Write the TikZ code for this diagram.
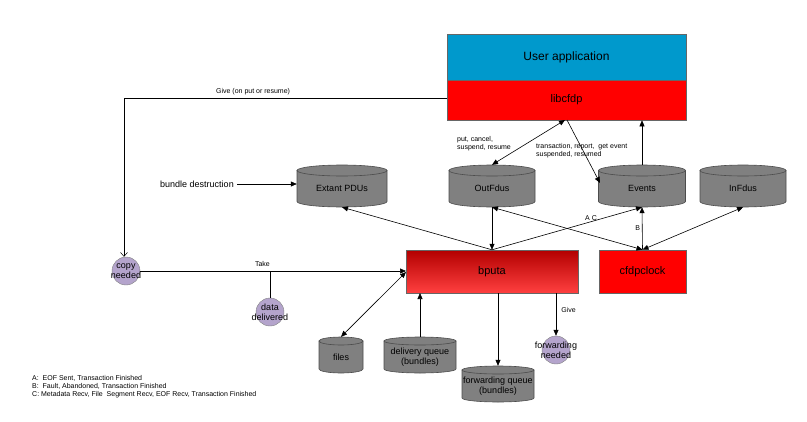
\documentclass[tikz,border=0pt]{standalone}
\usepackage{fontspec}
\setmainfont{Liberation Sans}
\usetikzlibrary{arrows.meta}
\definecolor{ublue}{RGB}{0,153,204}
\definecolor{cgray}{RGB}{128,128,128}
\definecolor{cpurp}{RGB}{180,164,204}
\newcommand{\mycyl}[7]{% name cx cy w h ry text
  \pgfmathsetmacro{\l}{#2-#4/2}\pgfmathsetmacro{\r}{#2+#4/2}
  \pgfmathsetmacro{\t}{#3-#5/2+#6}\pgfmathsetmacro{\b}{#3+#5/2-#6}
  \filldraw[fill=cgray,draw=black!70,line width=0.6pt] (\l,\t) -- (\l,\b) arc[start angle=180,end angle=0,x radius=#4/2,y radius=#6] -- (\r,\t) -- cycle;
  \filldraw[fill=cgray,draw=black!70,line width=0.6pt] (#2,\t) ellipse[x radius=#4/2,y radius=#6];
  \node[minimum width=#4, minimum height=#5, inner sep=0] (#1) at (#2,#3) {};
  \node[font=\fontsize{9}{10}\selectfont,align=center] at (#2,#3+#6/2) {#7};
}
\tikzset{
  ar/.style={-{Triangle[width=5pt,length=6pt]},line width=0.6pt},
  dar/.style={{Triangle[width=5pt,length=6pt]}-{Triangle[width=5pt,length=6pt]},line width=0.6pt},
  box/.style={draw=black!60,line width=0.6pt,minimum width=#1,inner sep=0,font=\fontsize{11}{12}\selectfont},
  circ/.style={circle,fill=cpurp,draw=black!50,minimum size=28pt,inner sep=0},
  ctext/.style={font=\fontsize{9}{10}\selectfont,align=center},
  lab/.style={font=\fontsize{7}{8}\selectfont,align=left,inner sep=1pt},
}
\begin{document}
\begin{tikzpicture}[x=1pt,y=-1pt]
\useasboundingbox (0,0) rectangle (807,421);
\node[box=239pt,minimum height=46pt,fill=ublue,font=\fontsize{12}{13}\selectfont] (ua) at (566.5,57) {User application};
\node[box=239pt,minimum height=40pt,fill=red] (lib) at (566.5,100) {libcfdp};
\mycyl{ext}{342}{186}{90}{42}{5.5}{Extant PDUs}
\mycyl{out}{492}{186}{86}{42}{5.5}{OutFdus}
\mycyl{ev}{642}{186}{87}{42}{5.5}{Events}
\mycyl{inf}{743}{186}{86}{42}{5.5}{InFdus}
\mycyl{files}{341}{355}{44}{36}{4}{files}
\mycyl{dq}{420}{355}{72}{36}{4}{delivery queue\\(bundles)}
\mycyl{fq}{498}{384}{72}{36}{4}{forwarding queue\\(bundles)}
\shade[top color=red!70!black,bottom color=red!75,draw=black!60] (406,250) rectangle (578,293);
\node[minimum width=172pt,minimum height=43pt,inner sep=0,font=\fontsize{11}{12}\selectfont] (bp) at (492,271.5) {bputa};
\node[box=87pt,minimum height=43pt,fill=red] (clk) at (642.5,271.5) {cfdpclock};
\node[circ] (cp) at (126,271) {};
\node[ctext] at (126,271) {copy\\needed};
\node[circ] (dd) at (270,312) {};
\node[ctext] at (270,312) {data\\delivered};
\node[circ] (fn) at (556,350) {};
\node[ctext] at (556,350) {forwarding\\needed};
\node[font=\fontsize{9}{10}\selectfont] (bd) at (197,184) {bundle destruction};
% connectors
\draw[-{Straight Barb[length=4pt,width=7pt]},line width=0.5pt] (lib.west |- 0,98) -- (124,98) node[lab,midway,above=2pt,pos=0.6]{Give (on put or resume)} -- (cp.north -| 124,0);
\draw[ar] (cp.east) -- (406,271) node[lab,pos=0.46,above=3pt]{Take};
\draw[line width=0.6pt] (dd.north) -- (270,271);
\draw[ar] (bd.east) -- (ext.west |- bd);
\draw[dar] (files.north) -- (406,272);
\draw[ar] (dq.north) -- (420,293);
\draw[ar] (498,293) -- (fq.north);
\draw[ar] (556,293) -- (fn.north) node[lab,pos=0.4,right=4pt]{Give};
\draw[ar] (out.south) -- (bp.north);
\draw[ar] (bp.north) -- (ext.south);
\draw[ar] (bp.north) -- (ev.south) node[lab,pos=0.66,above]{A C};
\draw[dar] (out.south) -- (clk.north);
\draw[ar] (clk.north) -- (ev.south) node[lab,midway,left=1pt]{B};
\draw[dar] (clk.north) -- (inf.south);
\draw[dar] (565,120) -- (out.north);
\draw[ar] (567,120) -- (600,183);
\draw[ar] (ev.north) -- (ev.north |- lib.south);
\node[lab,anchor=west] at (456,144) {put, cancel,\\suspend, resume};
\node[lab,anchor=west] at (535,151) {transaction, report,\ \ get event\\suspended, resumed};
\node[lab,anchor=west] at (31,387) {A:\ \ EOF Sent, Transaction Finished\\B:\ \ Fault, Abandoned, Transaction Finished\\C: Metadata Recv, File\ \ Segment Recv, EOF Recv, Transaction Finished};
\end{tikzpicture}
\end{document}
